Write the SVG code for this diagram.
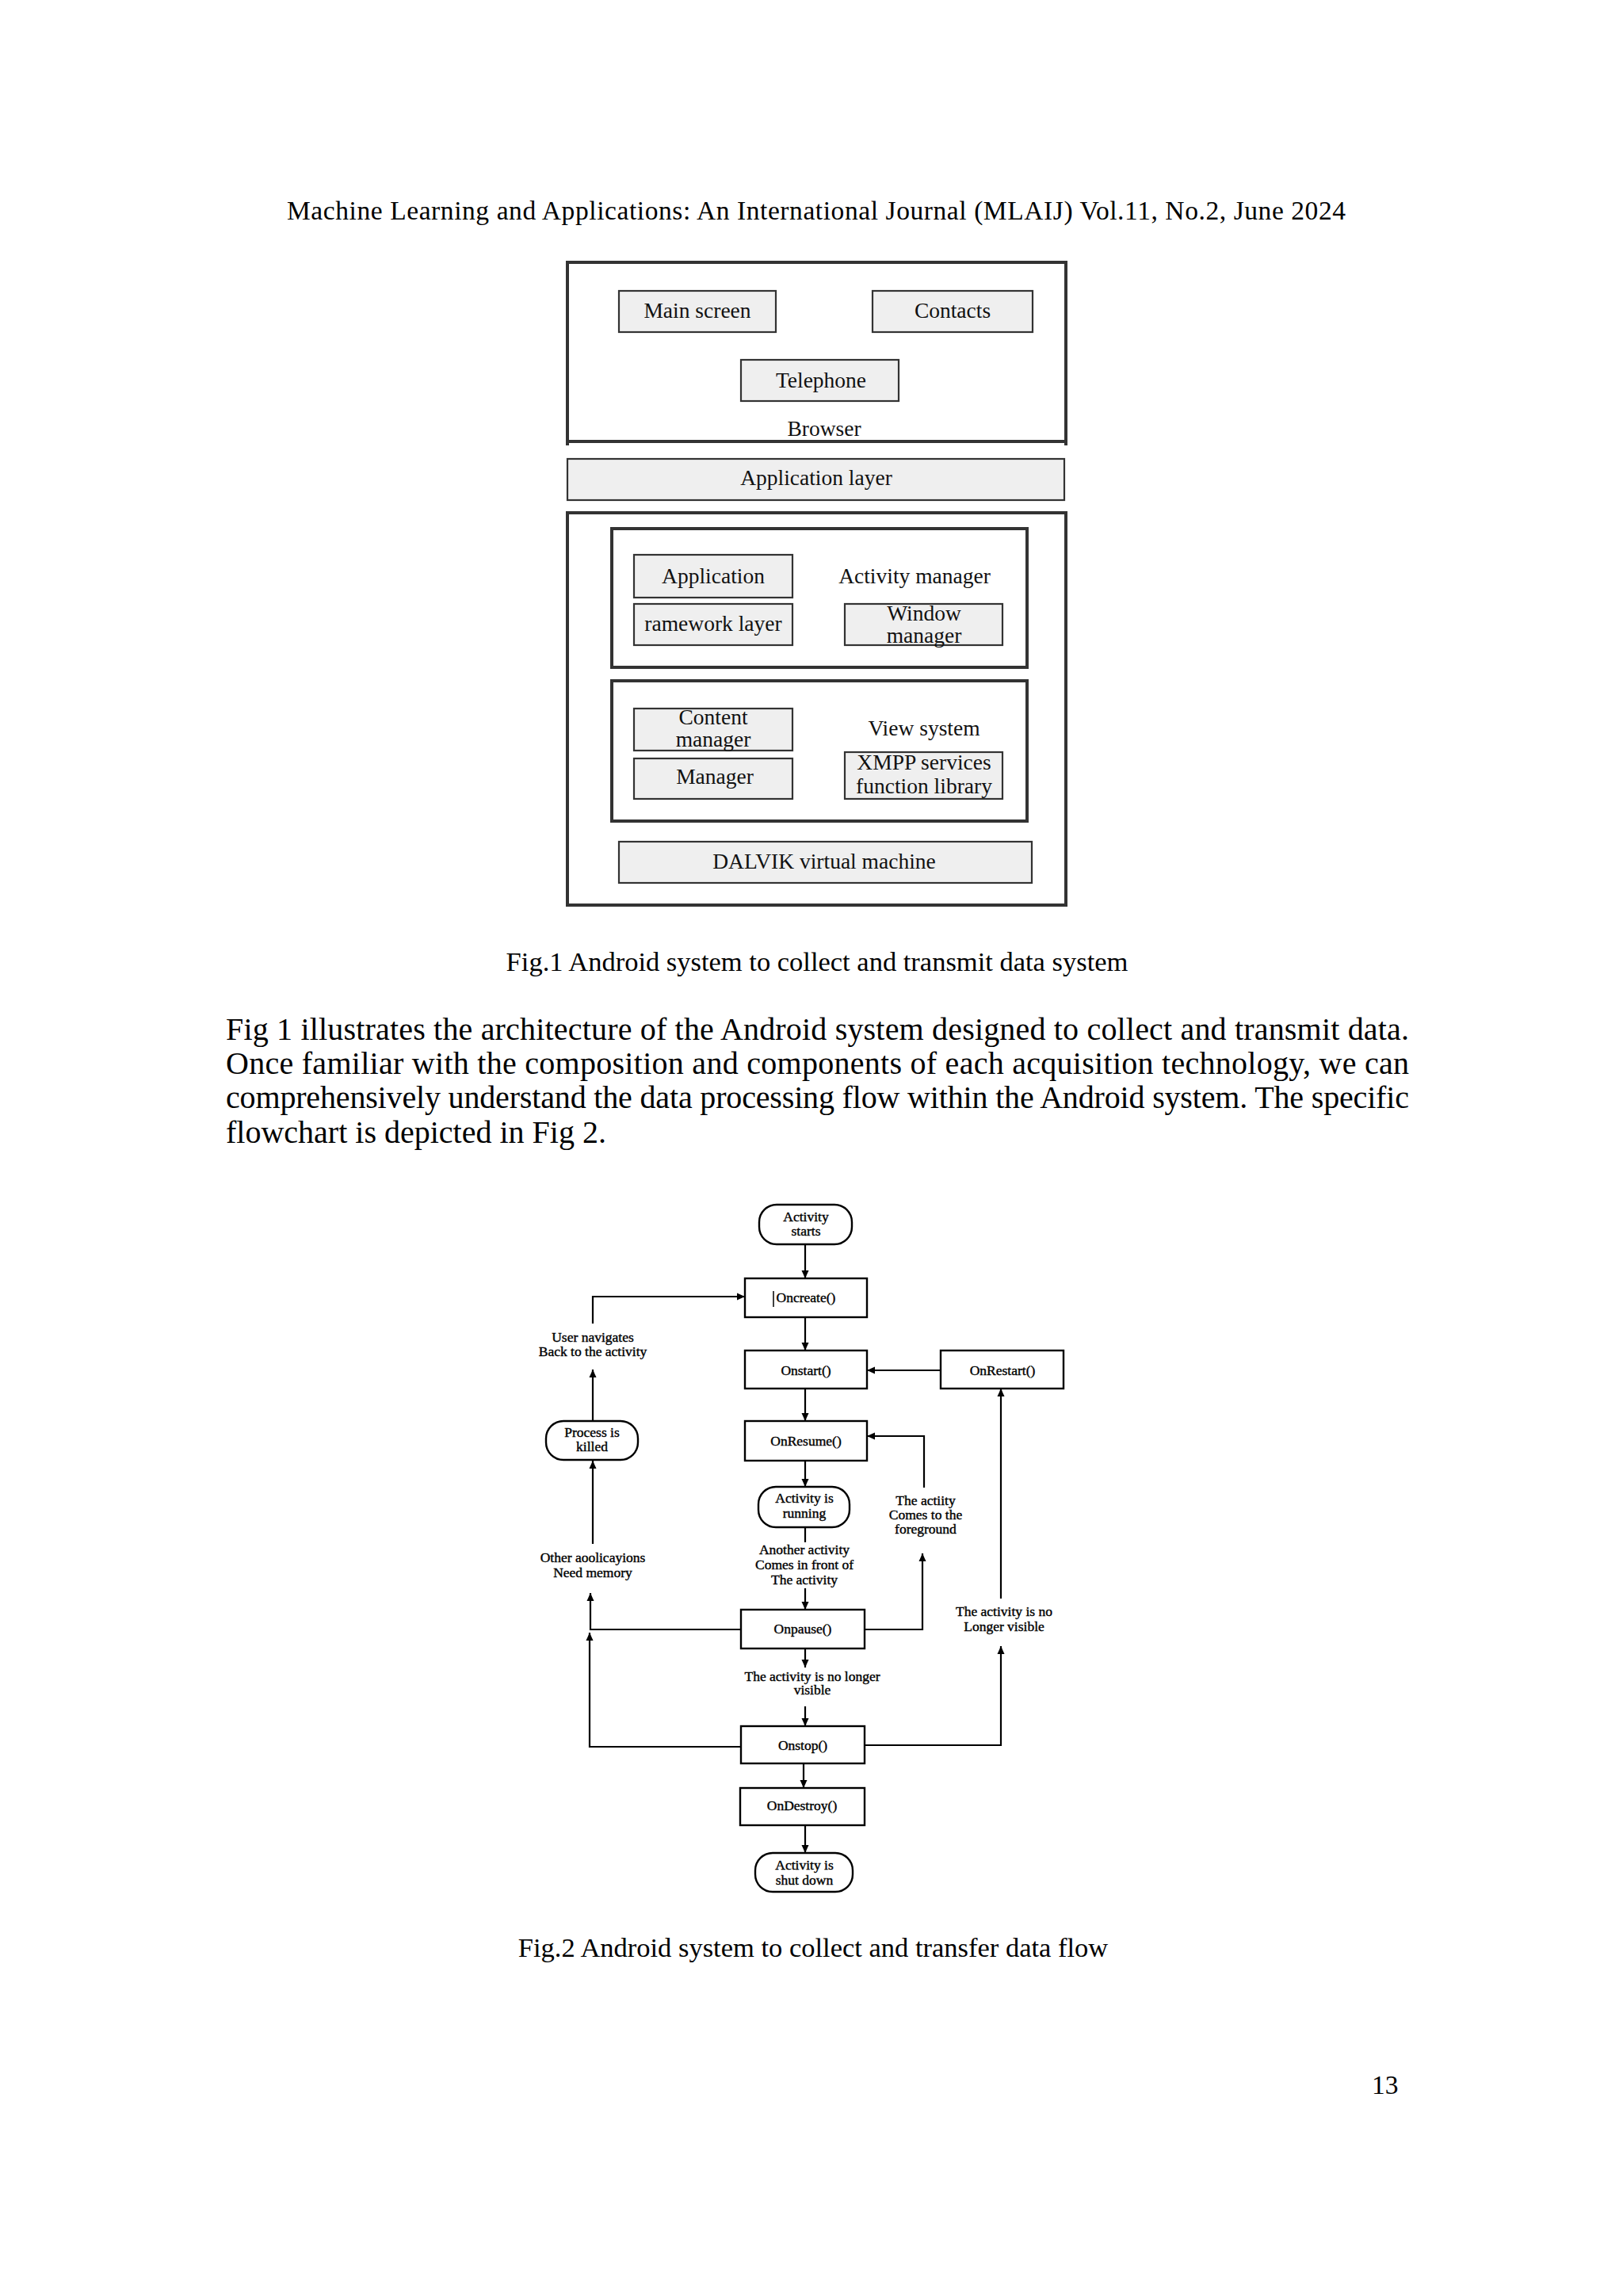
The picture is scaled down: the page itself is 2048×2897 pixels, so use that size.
<svg xmlns="http://www.w3.org/2000/svg" width="2048" height="2897" viewBox="0 0 2048 2897">
<defs>
<style>
text{font-family:"Liberation Serif","Times New Roman",serif;fill:#000}
.pg{font-size:33.5px}
.body{font-size:40px}
.cap{font-size:34.5px;text-anchor:middle}
.f1{font-size:27.5px;text-anchor:middle;fill:#111}
.frame{fill:none;stroke:#333;stroke-width:4}
.box{fill:#efefef;stroke:#333;stroke-width:2.2}
.n{fill:#fff;stroke:#000;stroke-width:2.4}
.f2{font-size:17.5px;text-anchor:middle;fill:#000;stroke:#000;stroke-width:0.4}
.c{fill:none;stroke:#000;stroke-width:2.2}
</style>
<marker id="ah" markerUnits="userSpaceOnUse" markerWidth="10" markerHeight="10" refX="10" refY="5" orient="auto">
<path d="M0,0.5 L10,5 L0,9.5 z" fill="#000"/>
</marker>
</defs>
<rect width="2048" height="2897" fill="#fff"/>

<g id="page-text">
<text class="pg" x="1030" y="277" text-anchor="middle" textLength="1336">Machine Learning and Applications: An International Journal (MLAIJ) Vol.11, No.2, June 2024</text>
<text class="cap" x="1031" y="1225">Fig.1 Android system to collect and transmit data system</text>
<text class="body" x="285" y="1312" textLength="1493">Fig 1 illustrates the architecture of the Android system designed to collect and transmit data.</text>
<text class="body" x="285" y="1355" textLength="1493">Once familiar with the composition and components of each acquisition technology, we can</text>
<text class="body" x="285" y="1398" textLength="1493">comprehensively understand the data processing flow within the Android system. The specific</text>
<text class="body" x="285" y="1442">flowchart is depicted in Fig 2.</text>
<text class="cap" x="1026" y="2469">Fig.2 Android system to collect and transfer data flow</text>
<text class="pg" x="1731" y="2642">13</text>
</g>

<g id="fig1">
<g id="browser-frame">
<rect class="frame" x="716" y="331" width="629" height="226"/>
<path d="M716 557 V562 M1345 557 V562" stroke="#333" stroke-width="4"/>
<text class="f1" x="1040" y="550">Browser</text>
</g>
<g id="main-screen"><rect class="box" x="781" y="367" width="198" height="52"/><text class="f1" x="880" y="401">Main screen</text></g>
<g id="contacts"><rect class="box" x="1101" y="367" width="202" height="52"/><text class="f1" x="1202" y="401">Contacts</text></g>
<g id="telephone"><rect class="box" x="935" y="454" width="199" height="52"/><text class="f1" x="1036" y="489">Telephone</text></g>
<g id="application-layer"><rect class="box" x="716" y="579" width="627" height="52"/><text class="f1" x="1030" y="612">Application layer</text></g>

<g id="lower-frame"><rect class="frame" x="716" y="647" width="629" height="495"/></g>
<g id="framework-frame">
<rect class="frame" x="772" y="667" width="524" height="175"/>
<text class="f1" x="1154" y="736">Activity manager</text>
</g>
<g id="application"><rect class="box" x="800" y="700" width="200" height="54"/><text class="f1" x="900" y="736">Application</text></g>
<g id="framework-layer"><rect class="box" x="800" y="762" width="200" height="52"/><text class="f1" x="900" y="796">ramework layer</text></g>
<g id="window-manager"><rect class="box" x="1066" y="762" width="199" height="52"/><text class="f1" x="1166" y="783">Window</text><text class="f1" x="1166" y="811">manager</text></g>

<g id="library-frame">
<rect class="frame" x="772" y="859" width="524" height="177"/>
<text class="f1" x="1166" y="928">View system</text>
</g>
<g id="content-manager"><rect class="box" x="800" y="894" width="200" height="53"/><text class="f1" x="900" y="914">Content</text><text class="f1" x="900" y="942">manager</text></g>
<g id="manager"><rect class="box" x="800" y="957" width="200" height="51"/><text class="f1" x="902" y="989">Manager</text></g>
<g id="xmpp"><rect class="box" x="1066" y="949" width="199" height="59"/><text class="f1" x="1166" y="971">XMPP services</text><text class="f1" x="1166" y="1001">function library</text></g>
<g id="dalvik"><rect class="box" x="781" y="1062" width="521" height="52"/><text class="f1" x="1040" y="1096">DALVIK virtual machine</text></g>
</g>

<g id="fig2-connectors">
<path class="c" marker-end="url(#ah)" d="M1016 1570 V1613"/>
<path class="c" marker-end="url(#ah)" d="M1016 1662 V1704"/>
<path class="c" marker-end="url(#ah)" d="M1016 1752 V1793"/>
<path class="c" marker-end="url(#ah)" d="M1016 1843 V1876"/>
<path class="c" d="M1016 1927 V1946"/>
<path class="c" marker-end="url(#ah)" d="M1016 2004 V2031"/>
<path class="c" marker-end="url(#ah)" d="M1016 2080 V2104"/>
<path class="c" marker-end="url(#ah)" d="M1016 2153 V2178"/>
<path class="c" marker-end="url(#ah)" d="M1014 2225 V2256"/>
<path class="c" marker-end="url(#ah)" d="M1016 2303 V2338"/>
<path class="c" marker-end="url(#ah)" d="M1187 1729 H1094"/>
<path class="c" marker-end="url(#ah)" d="M1091 2056 H1164 V1960"/>
<path class="c" marker-end="url(#ah)" d="M1166 1877 V1812 H1094"/>
<path class="c" marker-end="url(#ah)" d="M1091 2202 H1263 V2077"/>
<path class="c" marker-end="url(#ah)" d="M1263 2017 V1752"/>
<path class="c" marker-end="url(#ah)" d="M935 2056 H745 V2010"/>
<path class="c" marker-end="url(#ah)" d="M935 2204 H744 V2060"/>
<path class="c" marker-end="url(#ah)" d="M748 1948 V1843"/>
<path class="c" marker-end="url(#ah)" d="M748 1793 V1728"/>
<path class="c" marker-end="url(#ah)" d="M748 1670 V1636 H940"/>
</g>

<g id="fig2">
<g id="activity-starts"><rect class="n" x="958" y="1520" width="117" height="50" rx="22"/><text class="f2" x="1017" y="1541">Activity</text><text class="f2" x="1017" y="1559">starts</text></g>
<g id="oncreate"><rect class="n" x="940" y="1613" width="154" height="49"/><line x1="976" y1="1629" x2="976" y2="1649" stroke="#000" stroke-width="1.5"/><text class="f2" x="1017" y="1643">Oncreate()</text></g>
<g id="onstart"><rect class="n" x="940" y="1704" width="154" height="48"/><text class="f2" x="1017" y="1735">Onstart()</text></g>
<g id="onrestart"><rect class="n" x="1187" y="1704" width="155" height="48"/><text class="f2" x="1265" y="1735">OnRestart()</text></g>
<g id="onresume"><rect class="n" x="940" y="1793" width="154" height="50"/><text class="f2" x="1017" y="1824">OnResume()</text></g>
<g id="activity-running"><rect class="n" x="957" y="1876" width="115" height="51" rx="22"/><text class="f2" x="1015" y="1896">Activity is</text><text class="f2" x="1015" y="1915">running</text></g>
<g id="onpause"><rect class="n" x="935" y="2031" width="156" height="49"/><text class="f2" x="1013" y="2061">Onpause()</text></g>
<g id="onstop"><rect class="n" x="935" y="2178" width="156" height="47"/><text class="f2" x="1013" y="2208">Onstop()</text></g>
<g id="ondestroy"><rect class="n" x="934" y="2256" width="157" height="47"/><text class="f2" x="1012" y="2284">OnDestroy()</text></g>
<g id="activity-shut-down"><rect class="n" x="953" y="2338" width="123" height="49" rx="22"/><text class="f2" x="1015" y="2359">Activity is</text><text class="f2" x="1015" y="2378">shut down</text></g>
<g id="process-killed"><rect class="n" x="689" y="1793" width="116" height="49" rx="22"/><text class="f2" x="747" y="1813">Process is</text><text class="f2" x="747" y="1831">killed</text></g>

<g id="labels">
<text class="f2" x="748" y="1693">User navigates</text>
<text class="f2" x="748" y="1711">Back to the activity</text>
<text class="f2" x="748" y="1971">Other aoolicayions</text>
<text class="f2" x="748" y="1990">Need memory</text>
<text class="f2" x="1168" y="1899">The actiity</text>
<text class="f2" x="1168" y="1917">Comes to the</text>
<text class="f2" x="1168" y="1935">foreground</text>
<text class="f2" x="1015" y="1961">Another activity</text>
<text class="f2" x="1015" y="1980">Comes in front of</text>
<text class="f2" x="1015" y="1999">The activity</text>
<text class="f2" x="1025" y="2121">The activity is no longer</text>
<text class="f2" x="1025" y="2138">visible</text>
<text class="f2" x="1267" y="2039">The activity is no</text>
<text class="f2" x="1267" y="2058">Longer visible</text>
</g>
</g>
</svg>
